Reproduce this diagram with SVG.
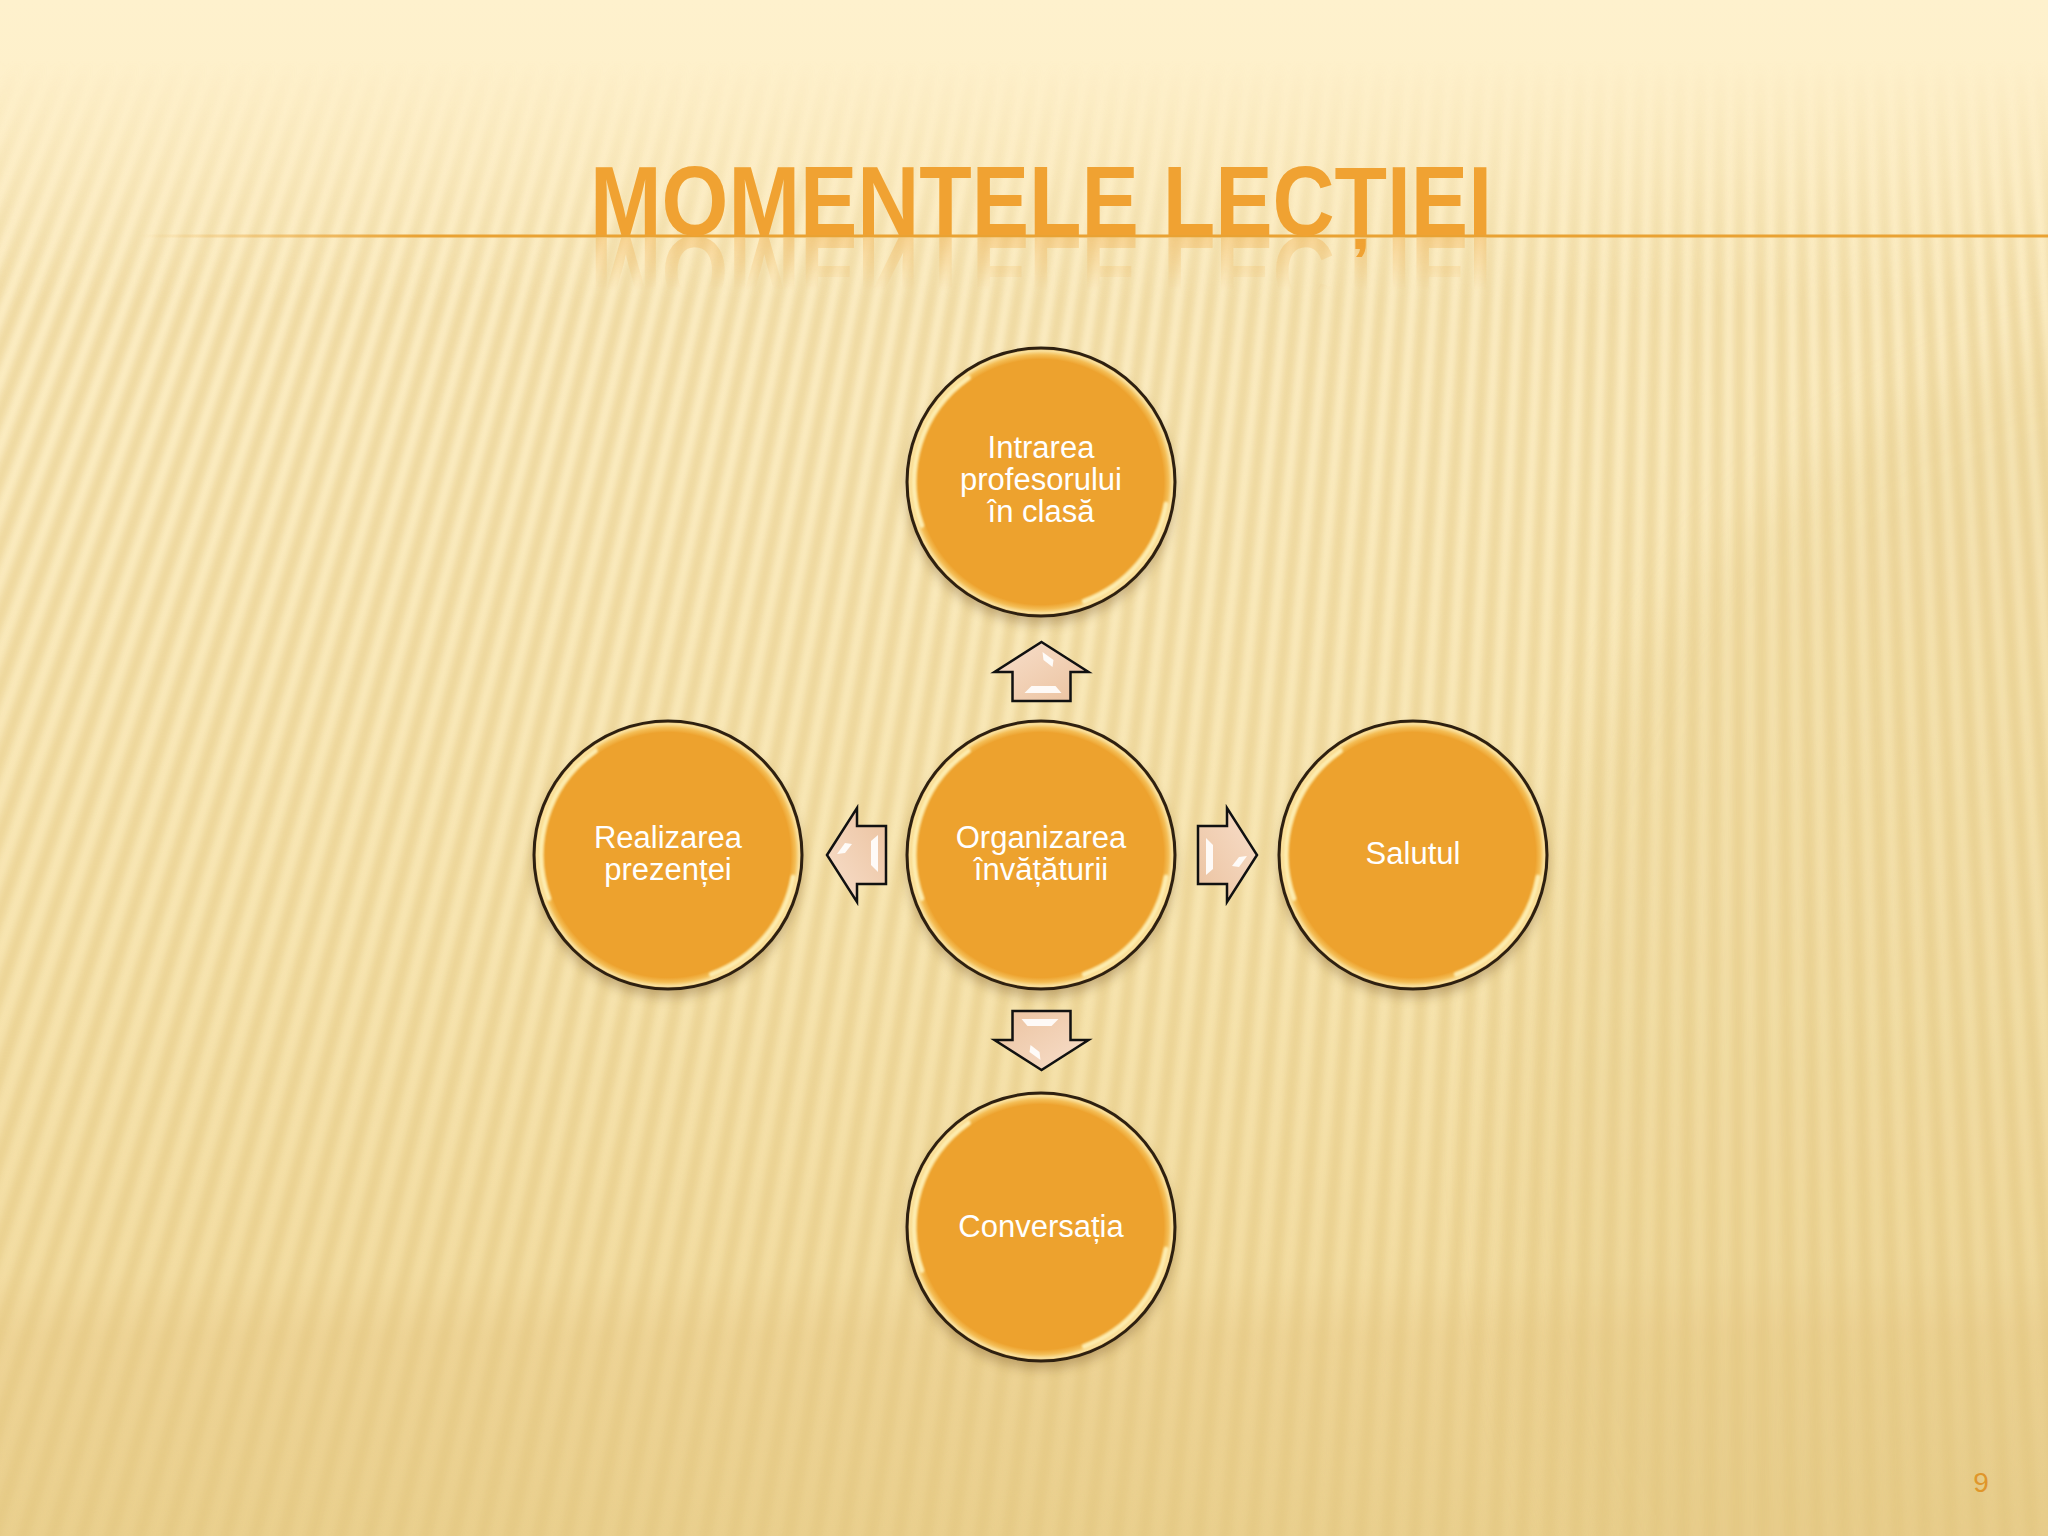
<svg xmlns="http://www.w3.org/2000/svg" xmlns:xlink="http://www.w3.org/1999/xlink" width="2048" height="1536" viewBox="0 0 2048 1536">
<style>
.lbl{font-family:"Liberation Sans",Arial,sans-serif;font-size:31px;fill:#ffffff;text-anchor:middle}
.title{font-family:"Liberation Sans Narrow","Liberation Sans",Arial,sans-serif;font-weight:bold;font-size:98px;fill:#F0A232}
.pg{font-family:"Liberation Sans",Arial,sans-serif;font-size:28px;fill:#E0962A;text-anchor:middle}
.arrow{fill:url(#arrowGrad);stroke:#111;stroke-width:2.5;stroke-linejoin:miter}
.hl{fill:#ffffff;opacity:.9}
</style>
<defs>
<linearGradient id="bgGrad" x1="0" y1="0" x2="0" y2="1">
<stop offset="0" stop-color="#FEF1CD"/>
<stop offset="0.06" stop-color="#FEF0CA"/>
<stop offset="0.3" stop-color="#FCEDC2"/>
<stop offset="0.6" stop-color="#F8E6B2"/>
<stop offset="0.83" stop-color="#F3DDA2"/>
<stop offset="0.87" stop-color="#EED496"/>
<stop offset="1" stop-color="#EAD08E"/>
</linearGradient>
<linearGradient id="stripeFade" gradientUnits="userSpaceOnUse" x1="0" y1="60" x2="0" y2="300">
<stop offset="0" stop-color="#fff" stop-opacity="0"/>
<stop offset="1" stop-color="#fff" stop-opacity="1"/>
</linearGradient>
<mask id="stripeMask" maskUnits="userSpaceOnUse" x="0" y="0" width="2048" height="1536">
<rect x="0" y="0" width="2048" height="1536" fill="url(#stripeFade)"/>
</mask>
<filter id="soft" x="-10%" y="-10%" width="120%" height="120%"><feGaussianBlur stdDeviation="3.5"/></filter>
<filter id="blur6" x="-20%" y="-20%" width="140%" height="140%"><feGaussianBlur stdDeviation="6"/></filter>
<filter id="blur1" x="-20%" y="-20%" width="140%" height="140%"><feGaussianBlur stdDeviation="1.2"/></filter>
<filter id="blur30" x="-30%" y="-30%" width="160%" height="160%"><feGaussianBlur stdDeviation="30"/></filter>
<linearGradient id="lineGrad" gradientUnits="userSpaceOnUse" x1="140" y1="0" x2="420" y2="0">
<stop offset="0" stop-color="#E9A233" stop-opacity="0"/>
<stop offset="1" stop-color="#E9A233" stop-opacity="1"/>
</linearGradient>
<linearGradient id="reflGrad" gradientUnits="userSpaceOnUse" x1="0" y1="238" x2="0" y2="290">
<stop offset="0" stop-color="#fff" stop-opacity="0.32"/>
<stop offset="1" stop-color="#fff" stop-opacity="0"/>
</linearGradient>
<mask id="reflMask" maskUnits="userSpaceOnUse" x="0" y="236" width="2048" height="80">
<rect x="0" y="238" width="2048" height="70" fill="url(#reflGrad)"/>
</mask>
<radialGradient id="beadGrad" cx="0.5" cy="0.5" r="0.5">
<stop offset="0" stop-color="#EDA22E"/>
<stop offset="0.915" stop-color="#EDA22E"/>
<stop offset="0.95" stop-color="#F4BD55"/>
<stop offset="0.98" stop-color="#FAE2A0"/>
<stop offset="1" stop-color="#D9A24A"/>
</radialGradient>
<linearGradient id="arrowGrad" x1="0" y1="0" x2="1" y2="1">
<stop offset="0" stop-color="#F8DFCB"/>
<stop offset="1" stop-color="#EBC29F"/>
</linearGradient>
<g id="bead">
<circle cx="0" cy="8" r="134" fill="#6b4a1a" opacity="0.35" filter="url(#blur6)"/>
<circle cx="0" cy="0" r="134" fill="url(#beadGrad)" stroke="#2E2010" stroke-width="3"/>
<g filter="url(#blur1)" fill="none" stroke="#FFF5C0" stroke-width="5" stroke-linecap="round" opacity="0.85">
<path d="M-119.3,43.4 A127,127 0 0 1 -72.8,-104"/>
<path d="M125.1,22.1 A127,127 0 0 1 43.4,119.3"/>
</g>
</g>
<g id="arrowUp">
<path class="arrow" d="M0,-30 L47,0 L29,0 L29,29 L-29,29 L-29,0 L-47,0 Z"/>
<path class="hl" d="M-17,21 L20,21 L14,14 L-10,14 Z"/>
<path class="hl" d="M1,-20 L12,-12 L11,-5 L2,-12 Z"/>
</g>
</defs>

<g id="background">
<rect x="0" y="0" width="2048" height="1536" fill="url(#bgGrad)"/>
<ellipse cx="2200" cy="1150" rx="700" ry="820" fill="#E0C47E" opacity="0.18" filter="url(#blur30)"/>
<g mask="url(#stripeMask)">
<circle cx="1750" cy="-4200" r="5130" fill="none" stroke="#E1C47E" stroke-width="1760" stroke-dasharray="12 12" opacity="0.5" filter="url(#soft)"/>
</g>
</g>

<g id="title">
<line x1="140" y1="236" x2="2048" y2="236" stroke="url(#lineGrad)" stroke-width="3"/>
<text id="titleText" class="title" x="590" y="235" textLength="902" lengthAdjust="spacingAndGlyphs">MOMENTELE LECȚIEI</text>
<g mask="url(#reflMask)">
<use xlink:href="#titleText" href="#titleText" transform="matrix(1,0,0,-1,0,472)"/>
</g>
</g>

<g id="connectors">
<use xlink:href="#arrowUp" href="#arrowUp" transform="translate(1041.5,672)"/>
<use xlink:href="#arrowUp" href="#arrowUp" transform="translate(857,855) rotate(-90)"/>
<use xlink:href="#arrowUp" href="#arrowUp" transform="translate(1227,855) rotate(90)"/>
<use xlink:href="#arrowUp" href="#arrowUp" transform="translate(1041.5,1040) rotate(180)"/>
</g>

<g id="node-top">
<use xlink:href="#bead" href="#bead" transform="translate(1041,482)"/>
<text class="lbl" x="1041" y="458">Intrarea</text>
<text class="lbl" x="1041" y="490">profesorului</text>
<text class="lbl" x="1041" y="522">în clasă</text>
</g>
<g id="node-center">
<use xlink:href="#bead" href="#bead" transform="translate(1041,855)"/>
<text class="lbl" x="1041" y="848">Organizarea</text>
<text class="lbl" x="1041" y="880">învățăturii</text>
</g>
<g id="node-left">
<use xlink:href="#bead" href="#bead" transform="translate(668,855)"/>
<text class="lbl" x="668" y="848">Realizarea</text>
<text class="lbl" x="668" y="880">prezenței</text>
</g>
<g id="node-right">
<use xlink:href="#bead" href="#bead" transform="translate(1413,855)"/>
<text class="lbl" x="1413" y="864">Salutul</text>
</g>
<g id="node-bottom">
<use xlink:href="#bead" href="#bead" transform="translate(1041,1227)"/>
<text class="lbl" x="1041" y="1237">Conversația</text>
</g>

<text class="pg" x="1981" y="1492">9</text>
</svg>
